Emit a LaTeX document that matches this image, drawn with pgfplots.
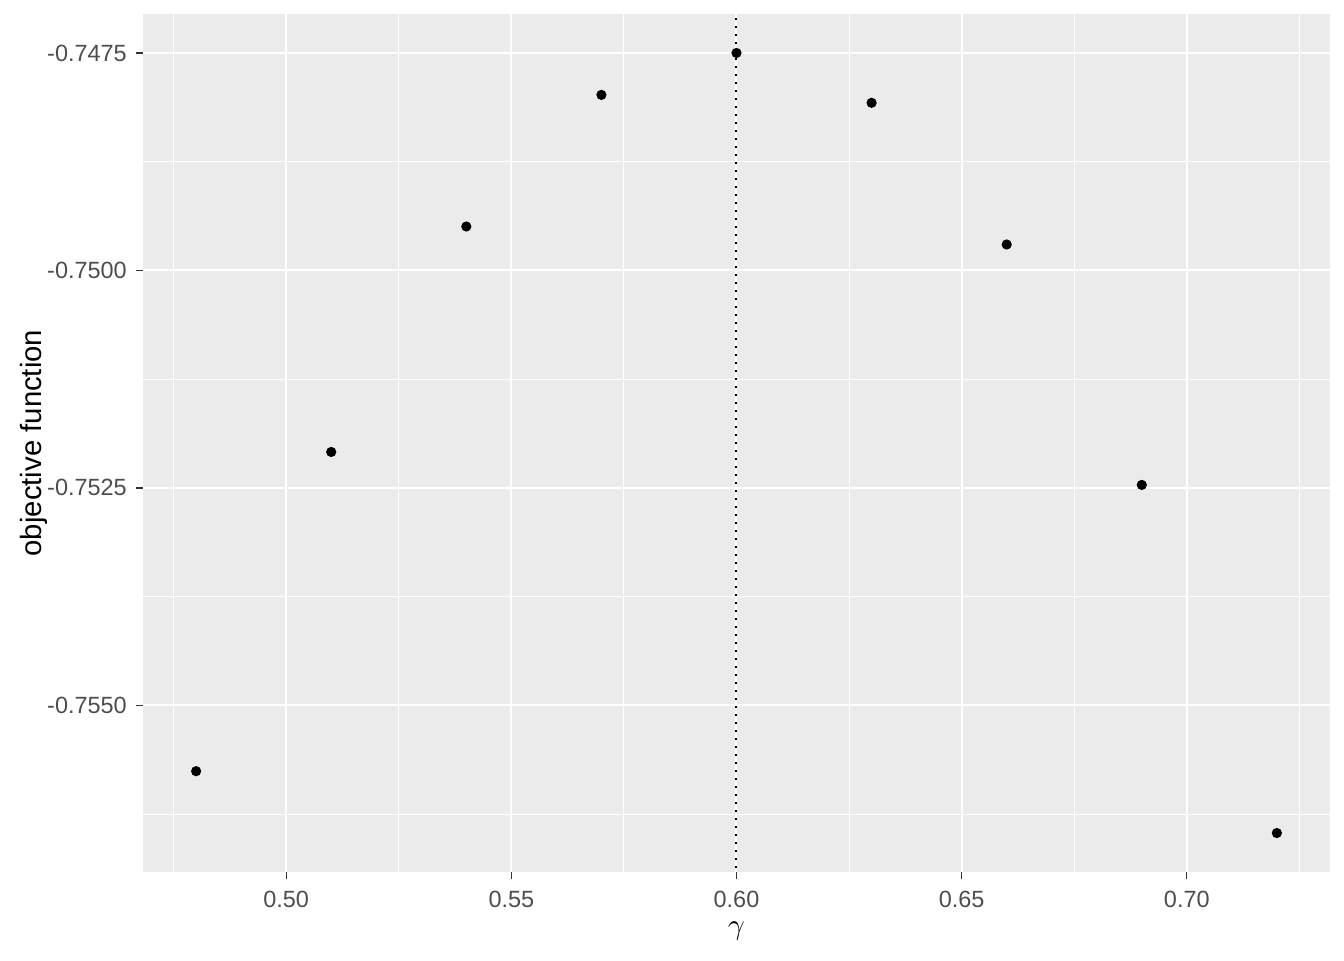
\documentclass[border=0pt]{standalone}
\usepackage{pgfplots}
\pgfplotsset{compat=1.18}
\usepackage{fontspec}
\setmainfont{Liberation Sans}
\definecolor{panelbg}{HTML}{EBEBEB}
\definecolor{ticklab}{HTML}{4D4D4D}
\definecolor{tickcol}{HTML}{333333}
\begin{document}
\begin{tikzpicture}
\path[use as bounding box] (-53.625pt,-33pt) rectangle (450.375pt,327pt);
\begin{axis}[
  at={(0,0)}, anchor=south west,
  scale only axis,
  width=445.125pt, height=321.75pt,
  xmin=0.4682, xmax=0.7318,
  ymin=-0.756916, ymax=-0.747052,
  axis background/.style={fill=panelbg},
  axis line style={draw=none},
  xtick={0.50,0.55,0.60,0.65,0.70},
  xticklabels={0.50,0.55,0.60,0.65,0.70},
  ytick={-0.7550,-0.7525,-0.7500,-0.7475},
  yticklabels={-0.7550,-0.7525,-0.7500,-0.7475},
  minor xtick={0.475,0.525,0.575,0.625,0.675,0.725},
  minor ytick={-0.75625,-0.75375,-0.75125,-0.74875},
  grid=both,
  major grid style={white, line width=0.75pt},
  minor grid style={white, line width=0.375pt},
  tick align=outside,
  major tick length=2.75pt,
  minor tick length=0pt,
  tick style={tickcol, line width=0.5pt},
  xtick pos=bottom, ytick pos=left,
  ticklabel style={font=\fontsize{8.8}{10}\selectfont, text=ticklab},
  xticklabel style={yshift=-1pt},
  yticklabel style={xshift=0.2pt},
  scaled ticks=false,
  xlabel={$\gamma$}, ylabel={objective function},
  label style={font=\fontsize{11}{13}\selectfont},
  xlabel style={yshift=1.5pt},
  ylabel style={yshift=-7pt},
  clip=true,
]
\addplot[black, line width=0.75pt, dash pattern=on 0.75pt off 2.25pt] coordinates {(0.60,-0.76) (0.60,-0.74)};
\addplot[only marks, mark=*, mark size=1.7pt, black] coordinates {
(0.48,-0.755757)
(0.51,-0.752087)
(0.54,-0.749495)
(0.57,-0.747982)
(0.60,-0.747500)
(0.63,-0.748073)
(0.66,-0.749702)
(0.69,-0.752466)
(0.72,-0.756468)
};
\end{axis}
\end{tikzpicture}
\end{document}
